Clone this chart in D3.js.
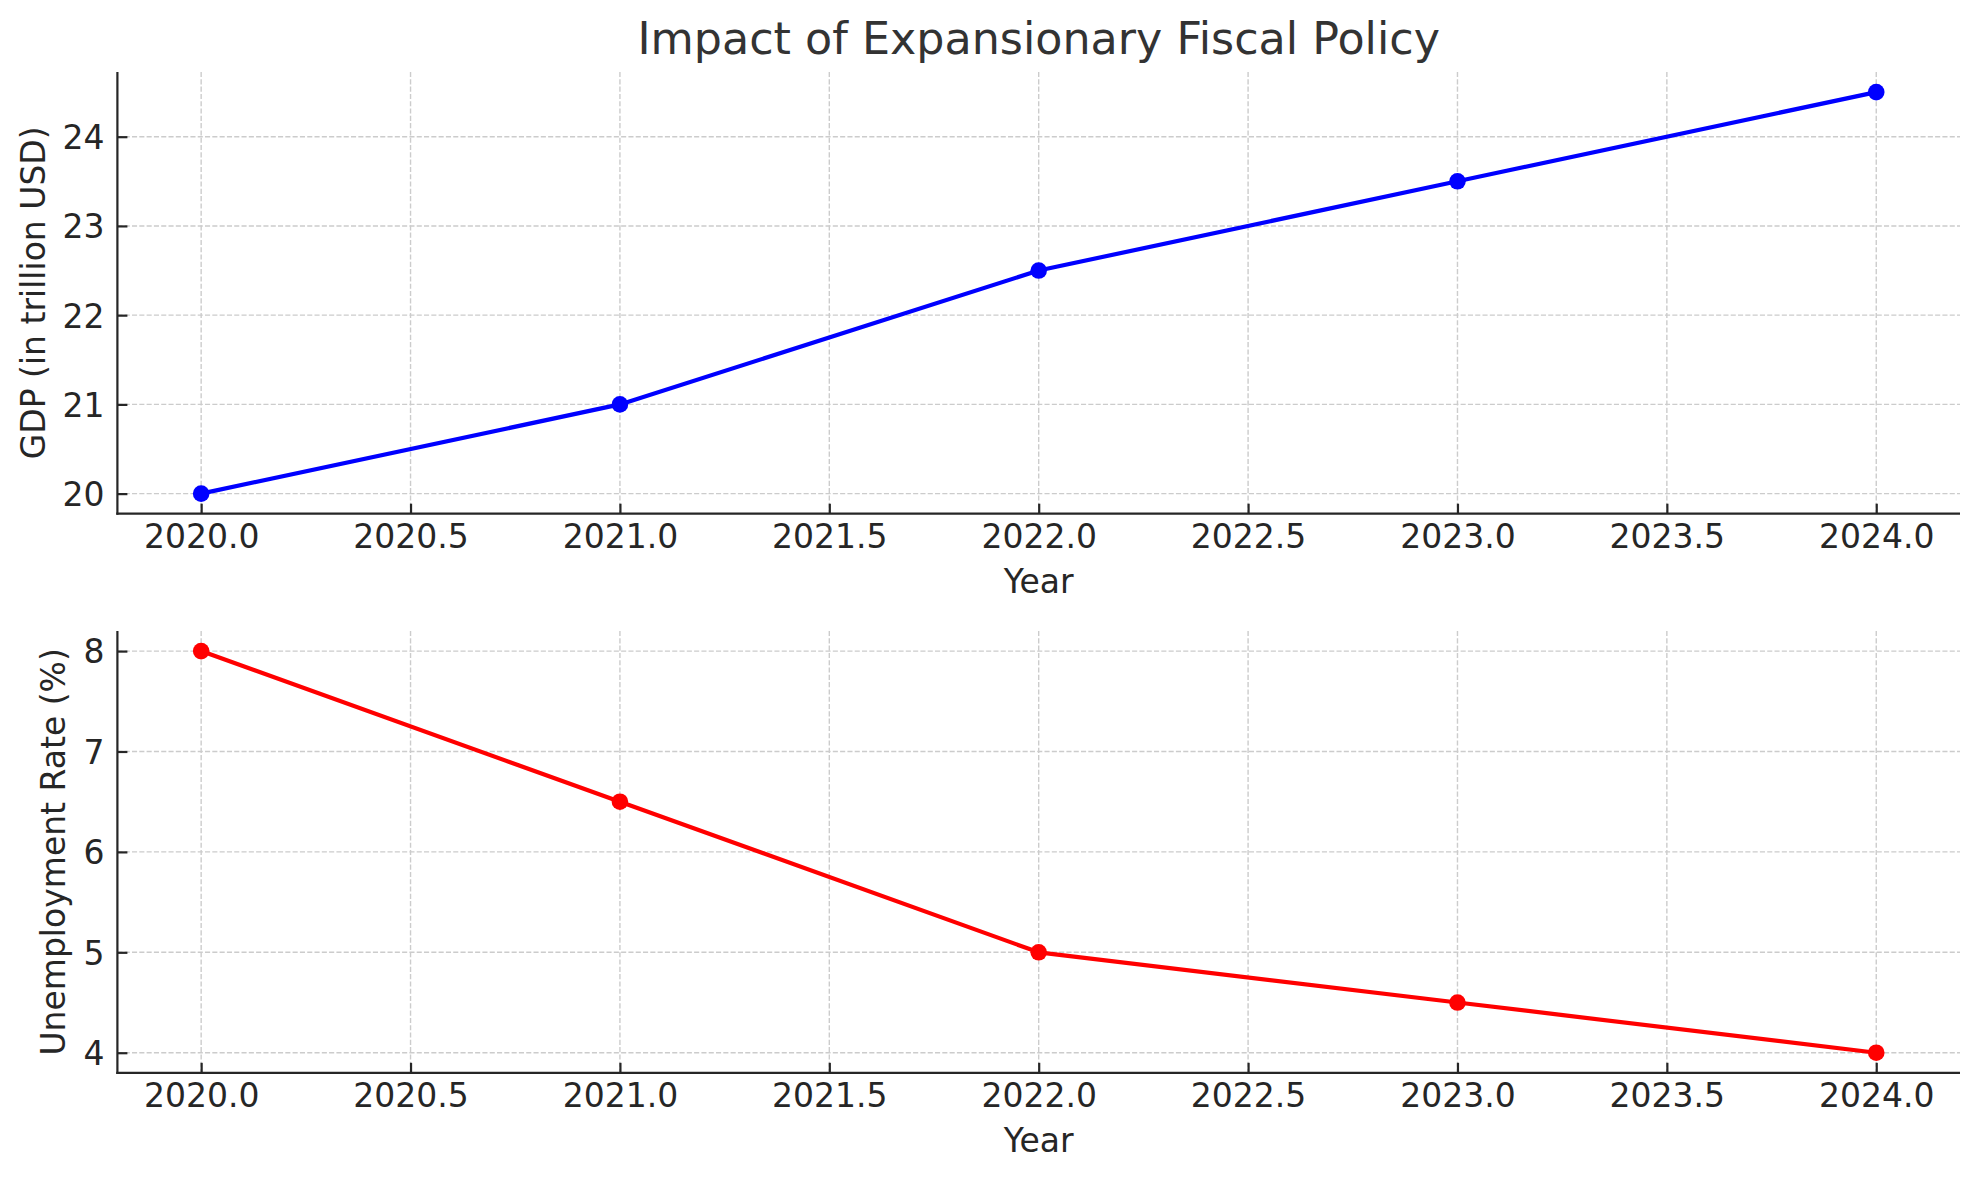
<!DOCTYPE html>
<html>
<head>
<meta charset="utf-8">
<script src="https://cdn.jsdelivr.net/npm/d3@7"></script>
<style>
  html, body { margin: 0; padding: 0; background: #ffffff; }
  svg { display: block; font-family: "DejaVu Sans", sans-serif; }
</style>
</head>
<body>
<svg id="chart" width="1979" height="1180"></svg>
<script>
// ---- data ----
const years = [2020, 2021, 2022, 2023, 2024];
const gdp = [20, 21, 22.5, 23.5, 24.5];
const unemployment = [8, 6.5, 5, 4.5, 4];
const xTicks = [2020, 2020.5, 2021, 2021.5, 2022, 2022.5, 2023, 2023.5, 2024];
const gdpTicks = [20, 21, 22, 23, 24];
const unempTicks = [4, 5, 6, 7, 8];
const titleText = "Impact of Expansionary Fiscal Policy";
const xLabelText = "Year";
const gdpLabelText = "GDP (in trillion USD)";
const unempLabelText = "Unemployment Rate (%)";

// ---- layout ----
const W = 1979, H = 1180;
const left = 117.4, right = 1960;
const panels = [
  { top: 72, bottom: 513.7, values: gdp, ticks: gdpTicks, label: gdpLabelText, color: "#0000ff", labelX: 44.5 },
  { top: 631, bottom: 1072.8, values: unemployment, ticks: unempTicks, label: unempLabelText, color: "#ff0000", labelX: 65 }
];

const svg = d3.select("#chart");
svg.append("rect").attr("width", W).attr("height", H).attr("fill", "#ffffff");

function margined(ext, frac) {
  const r = ext[1] - ext[0];
  return [ext[0] - r * frac, ext[1] + r * frac];
}

const x = d3.scaleLinear().domain(margined(d3.extent(years), 0.05)).range([left, right]);

const spineColor = "#262626";
const textColor = "#262626";

panels.forEach(p => {
  const y = d3.scaleLinear().domain(margined(d3.extent(p.values), 0.05)).range([p.bottom, p.top]);
  const g = svg.append("g");

  // grid
  const grid = g.append("g").attr("class", "grid");
  grid.selectAll("line.v").data(xTicks).join("line")
    .attr("x1", d => x(d)).attr("x2", d => x(d))
    .attr("y1", p.top).attr("y2", p.bottom)
    .attr("stroke", "#cccccc").attr("stroke-width", 1.4)
    .attr("stroke-dasharray", "5.1,2.2");
  grid.selectAll("line.h").data(p.ticks).join("line")
    .attr("x1", left).attr("x2", right)
    .attr("y1", d => y(d)).attr("y2", d => y(d))
    .attr("stroke", "#cccccc").attr("stroke-width", 1.4)
    .attr("stroke-dasharray", "5.1,2.2");

  // x axis
  const xAxis = d3.axisBottom(x).tickValues(xTicks).tickFormat(d3.format(".1f"))
    .tickSizeInner(-10).tickSizeOuter(0).tickPadding(0);
  const gx = g.append("g").attr("transform", `translate(0,${p.bottom})`).call(xAxis);
  gx.select(".domain").remove();
  gx.selectAll(".tick line").attr("stroke", spineColor).attr("stroke-width", 2.2);
  gx.selectAll(".tick text").attr("y", 34.6).attr("dy", null)
    .attr("fill", textColor).style("font-size", "33px").style("font-family", "DejaVu Sans");

  // y axis
  const yAxis = d3.axisLeft(y).tickValues(p.ticks).tickFormat(d3.format("d"))
    .tickSizeInner(-10).tickSizeOuter(0).tickPadding(0);
  const gy = g.append("g").attr("transform", `translate(${left},0)`).call(yAxis);
  gy.select(".domain").remove();
  gy.selectAll(".tick line").attr("stroke", spineColor).attr("stroke-width", 2.2);
  gy.selectAll(".tick text").attr("x", -13).attr("dy", "0.36em")
    .attr("fill", textColor).style("font-size", "33px").style("font-family", "DejaVu Sans");

  // spines (left & bottom)
  g.append("line").attr("x1", left).attr("x2", left).attr("y1", p.top).attr("y2", p.bottom + 1.1)
    .attr("stroke", spineColor).attr("stroke-width", 2.2);
  g.append("line").attr("x1", left - 1.1).attr("x2", right).attr("y1", p.bottom).attr("y2", p.bottom)
    .attr("stroke", spineColor).attr("stroke-width", 2.2);

  // line + markers
  const line = d3.line().x((d, i) => x(years[i])).y(d => y(d));
  g.append("path").datum(p.values).attr("d", line)
    .attr("fill", "none").attr("stroke", p.color).attr("stroke-width", 4.2)
    .attr("stroke-linejoin", "round").attr("stroke-linecap", "butt");
  g.selectAll("circle").data(p.values).join("circle")
    .attr("cx", (d, i) => x(years[i])).attr("cy", d => y(d)).attr("r", 8.3)
    .attr("fill", p.color);

  // axis labels
  g.append("text").attr("x", (left + right) / 2).attr("y", p.bottom + 79)
    .attr("text-anchor", "middle").attr("fill", textColor)
    .style("font-size", "33px").text(xLabelText);
  g.append("text")
    .attr("transform", `translate(${p.labelX},${(p.top + p.bottom) / 2}) rotate(-90)`)
    .attr("text-anchor", "middle").attr("fill", textColor)
    .style("font-size", "33px").text(p.label);
});

// title
svg.append("text").attr("x", (left + right) / 2).attr("y", 54)
  .attr("text-anchor", "middle").attr("fill", "#333333")
  .style("font-size", "44.4px").text(titleText);
</script>
</body>
</html>
